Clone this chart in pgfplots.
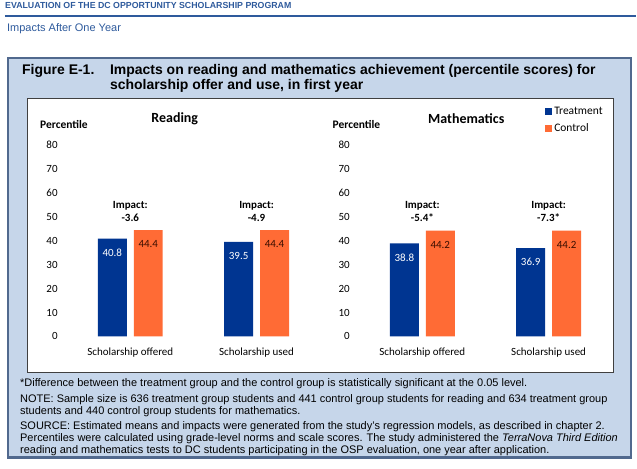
\documentclass[border=0pt]{standalone}
\usepackage{fontspec}
\setmainfont{Liberation Sans}
\newfontfamily\chartfont{Carlito}
\usepackage{pgfplots}
\pgfplotsset{compat=1.18}

\definecolor{headblue}{HTML}{2E5A9C}
\definecolor{boxfill}{HTML}{C6D6EA}
\definecolor{boxdraw}{HTML}{51698E}
\definecolor{framegray}{HTML}{404040}
\definecolor{treat}{HTML}{003591}
\definecolor{ctrl}{HTML}{FF6B35}
\definecolor{ctrltext}{HTML}{3A0E00}

\tikzset{impact/.style={align=center, font=\chartfont\bfseries\fontsize{11}{13}\selectfont}}

\pgfplotsset{
  panel/.style={
    ybar=7pt, bar width=29pt,
    scale only axis, width=253pt, height=192pt,
    xmin=-0.5, xmax=1.5, ymin=0, ymax=80,
    enlargelimits=false, clip=false,
    xtick={0,1}, xticklabels={Scholarship offered, Scholarship used},
    ytick={0,10,...,80},
    axis line style={draw=none}, major tick length=0pt,
    /pgf/number format/assume math mode=true,
    ticklabel style={font=\chartfont\fontsize{11}{13}\selectfont},
    yticklabel style={anchor=east, xshift=-6pt},
    xticklabel style={anchor=north, yshift=-8pt},
    nodes near coords={\pgfmathprintnumber[fixed,fixed zerofill,precision=1]{\pgfplotspointmeta}},
    every node near coord/.append style={anchor=center, yshift=-14pt,
      font=\chartfont\fontsize{11}{13}\selectfont},
  },
  treatbar/.style={fill=treat, draw=none, every node near coord/.append style={text=white}},
  ctrlbar/.style={fill=ctrl, draw=none, every node near coord/.append style={text=ctrltext}},
}

\begin{document}
\begin{tikzpicture}[x=1pt,y=1pt]
\path (0,0) rectangle (637,469);

% running header
\node[anchor=base west, inner sep=0, text=headblue,
  font=\fontsize{8.8}{10}\selectfont\bfseries] at (5,460) {EVALUATION OF THE DC OPPORTUNITY SCHOLARSHIP PROGRAM};
\draw[headblue, line width=2pt] (5,453) -- (637,453);
\node[anchor=base west, inner sep=0, text=headblue,
  font=\fontsize{11}{13}\selectfont] at (7,437) {Impacts After One Year};

% figure panel
\draw[draw=boxdraw, fill=boxfill, line width=2.5pt] (8,411) rectangle (632,11);
\node[anchor=base west, inner sep=0, font=\fontsize{14}{16}\selectfont\bfseries] at (22,394) {Figure E-1.};
\node[anchor=base west, inner sep=0, font=\fontsize{14}{16}\selectfont\bfseries] at (110,394)
  {Impacts on reading and mathematics achievement (percentile scores) for};
\node[anchor=base west, inner sep=0, font=\fontsize{14}{16}\selectfont\bfseries] at (110,379)
  {scholarship offer and use, in first year};
\draw[draw=framegray, fill=white, line width=1pt] (28,370) rectangle (614,96);

% panel headings
\node[font=\chartfont\bfseries\fontsize{14}{16}\selectfont] at (175,350) {Reading};
\node[font=\chartfont\bfseries\fontsize{14}{16}\selectfont] at (467,350) {Mathematics};
\node[anchor=west, inner sep=0, font=\chartfont\bfseries\fontsize{11.5}{13}\selectfont] at (40,344) {Percentile};
\node[anchor=west, inner sep=0, font=\chartfont\bfseries\fontsize{11.5}{13}\selectfont] at (333,344) {Percentile};

% Reading
\begin{axis}[panel, at={(67.25pt,132pt)}, anchor=south west]
  \addplot[treatbar] coordinates {(0,40.8) (1,39.5)};
  \addplot[ctrlbar]  coordinates {(0,44.4) (1,44.4)};
  \node[impact] at (axis cs:0,52.0) {Impact:\\-3.6};
  \node[impact] at (axis cs:1,52.0) {Impact:\\-4.9};
\end{axis}

% Mathematics
\begin{axis}[panel, at={(359.75pt,132pt)}, anchor=south west,
  legend style={at={(0.736,1.21)}, anchor=north west, draw=none, fill=none,
    inner sep=0pt, row sep=4pt, font=\chartfont\fontsize{11.5}{13}\selectfont,
    cells={anchor=west}},
  legend image code/.code={\fill[#1] (0pt,-3.5pt) rectangle (7pt,3.5pt);}]
  \addplot[treatbar] coordinates {(0,38.8) (1,36.9)};
  \addplot[ctrlbar]  coordinates {(0,44.2) (1,44.2)};
  \legend{Treatment, Control}
  \node[impact] at (axis cs:0,52.0) {Impact:\\-5.4*};
  \node[impact] at (axis cs:1,52.0) {Impact:\\-7.3*};
\end{axis}

% notes
\begin{scope}[every node/.style={anchor=base west, inner sep=0, font=\fontsize{11}{13}\selectfont}]
\node at (20,82) {*Difference between the treatment group and the control group is statistically significant at the 0.05 level.};
\node at (20,66) {NOTE: Sample size is 636 treatment group students and 441 control group students for reading and 634 treatment group};
\node at (20,54) {students and 440 control group students for mathematics.};
\node at (20,39) {SOURCE: Estimated means and impacts were generated from the study's regression models, as described in chapter 2.};
\node at (20,27) {Percentiles were calculated using grade-level norms and scale scores. The study administered the \textit{TerraNova Third Edition}};
\node at (20,15) {reading and mathematics tests to DC students participating in the OSP evaluation, one year after application.};
\end{scope}
\end{tikzpicture}
\end{document}
